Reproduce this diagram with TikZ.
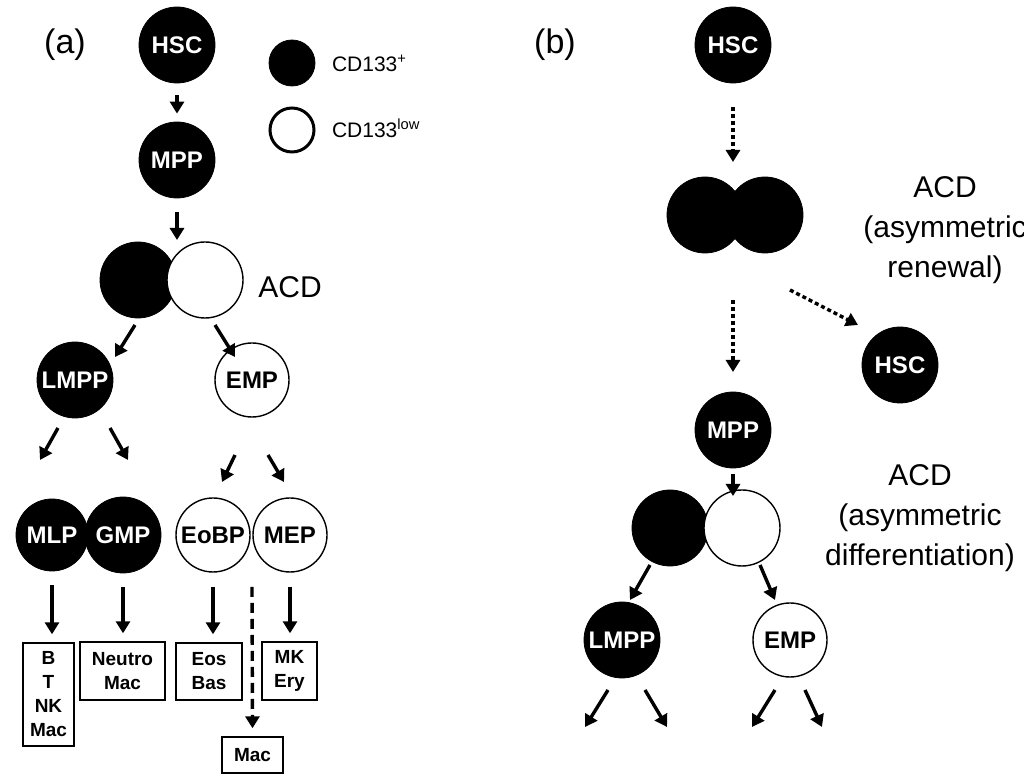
\documentclass[tikz,border=0pt]{standalone}
\usepackage{fontspec}
\setmainfont{Liberation Sans}
\usetikzlibrary{arrows.meta}
\begin{document}
\begin{tikzpicture}[x=0.5pt,y=-0.5pt,
 bc/.style={circle,fill=black,draw=black,minimum size=38pt,inner sep=0,text=white,font=\fontsize{12}{14}\selectfont\bfseries},
 wc/.style={circle,fill=white,draw=black,line width=0.7pt,minimum size=37pt,inner sep=0,font=\fontsize{12}{14}\selectfont\bfseries},
 bx/.style={draw=black,line width=0.7pt,align=center,inner sep=0,font=\fontsize{9.5}{12}\selectfont\bfseries},
 ar/.style={line width=1.7pt,-{Triangle[length=6pt,width=7pt]}},
 da/.style={ar,dash pattern=on 5pt off 3pt},
 dt/.style={ar,dash pattern=on 2pt off 1.5pt},
 big/.style={font=\fontsize{15}{20}\selectfont,align=center}]
\useasboundingbox (0,0) rectangle (1024,779);
% (a)
\node[big,font=\fontsize{17}{20}\selectfont] (la) at (65,45) {(a)};
\node[bc] (hsc) at (177,45) {HSC};
\node[bc] (mpp) at (177,160) {MPP};
\node[bc,minimum size=38pt] (p1) at (138,280) {};
\node[wc,minimum size=38pt] (p2) at (205,280) {};
\node[big] (acd) at (290,287) {ACD};
\node[bc,minimum size=23pt] (lb) at (292,63) {};
\node[wc,minimum size=22pt,line width=1.5pt] (lw) at (292,130) {};
\node[anchor=west,font=\fontsize{10.5}{12}\selectfont] (t1) at (325,63) {CD133\textsuperscript{+}};
\node[anchor=west,font=\fontsize{10.5}{12}\selectfont] (t2) at (325,128) {CD133\textsuperscript{low}};
\node[bc] (lmpp) at (75,380) {LMPP};
\node[wc] (emp) at (252,380) {EMP};
\node[bc,minimum size=36pt] (mlp) at (52,535) {MLP};
\node[bc] (gmp) at (123,535) {GMP};
\node[wc] (eobp) at (213,535) {EoBP};
\node[wc] (mep) at (290,535) {MEP};
\node[bx,minimum width=25.5pt,minimum height=51.5pt] (b1) at (48.5,694.5) {B\\T\\NK\\Mac};
\node[bx,minimum width=42.5pt,minimum height=29pt] (b2) at (122.5,671) {Neutro\\Mac};
\node[bx,minimum width=33pt,minimum height=28.5pt] (b3) at (209,671.5) {Eos\\Bas};
\node[bx,minimum width=27.5pt,minimum height=29pt] (b4) at (289.5,671) {MK\\Ery};
\node[bx,minimum width=30.5pt,minimum height=18pt] (b5) at (252.5,755) {Mac};
\coordinate (d0) at (252,587);
\draw[ar] ([yshift=-6pt]hsc.south) -- ([yshift=4pt]mpp.north);
\draw[ar] ([yshift=-7pt]mpp.south) -- (177,240);
\draw[ar] (135,325) -- (115,357);
\draw[ar] (215,325) -- (235,357);
\draw[ar] (58,428) -- (40,460);
\draw[ar] (110,428) -- (128,460);
\draw[ar] (235,455) -- (222,482);
\draw[ar] (268,455) -- (284,482);
\foreach \n/\b in {mlp/b1,gmp/b2,eobp/b3,mep/b4}{
 \draw[ar] ([yshift=-7pt]\n.south) -- ([yshift=4pt]\b.north -| \n.south);}
\draw[da] (d0) -- ([yshift=4pt]b5.north);
% (b)
\node[big,font=\fontsize{17}{20}\selectfont] (lb2) at (555,45) {(b)};
\node[bc] (hsc2) at (733,45) {HSC};
\node[bc,minimum size=38pt] (q1) at (705,215) {};
\node[bc,minimum size=38pt] (q2) at (765,215) {};
\node[big] (acd2) at (945,230) {ACD\\(asymmetric\\renewal)};
\node[bc] (hsc3) at (900,365) {HSC};
\node[bc] (mpp2) at (733,430) {MPP};
\node[bc,minimum size=38pt] (r1) at (670,528) {};
\node[wc,minimum size=38pt] (r2) at (742,528) {};
\node[big] (acd3) at (920,518) {ACD\\(asymmetric\\differentiation)};
\node[bc] (lmpp2) at (622,640) {LMPP};
\node[wc] (emp2) at (790,640) {EMP};
\coordinate (e1) at (585,727); \coordinate (e2) at (667,727);
\coordinate (e3) at (752,727); \coordinate (e4) at (822,727);
\draw[dt] ([yshift=-12pt]hsc2.south) -- (733,162);
\draw[dt] (733,300) -- (733,372);
\draw[dt] (790,290) -- (858,325);
\draw[ar] ([yshift=-3pt]mpp2.south) -- (733,496);
\draw[ar] (650,565) -- (630,600);
\draw[ar] (760,565) -- (775,600);
\draw[ar] (608,690) -- (e1);
\draw[ar] (645,690) -- (e2);
\draw[ar] (775,690) -- (e3);
\draw[ar] (805,690) -- (e4);
\end{tikzpicture}
\end{document}
